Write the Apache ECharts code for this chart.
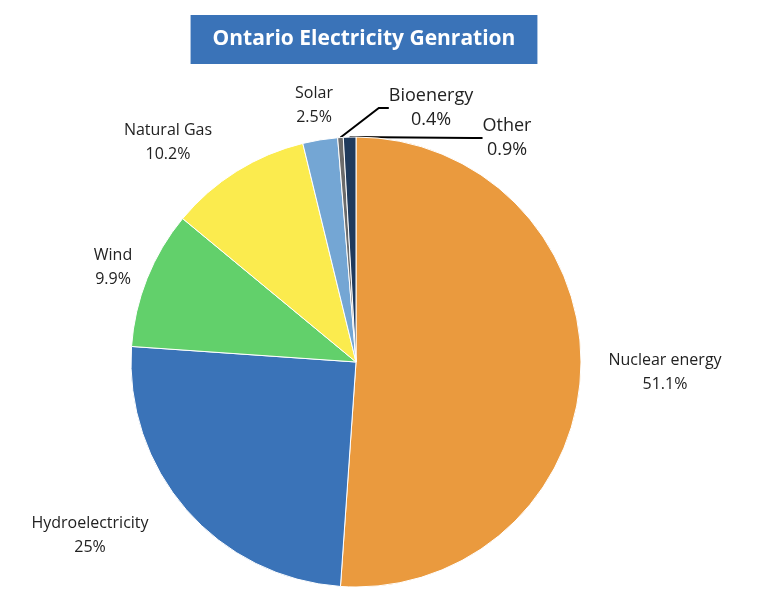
<!DOCTYPE html>
<html><head><meta charset="utf-8">
<script src="https://cdn.jsdelivr.net/npm/echarts@6/dist/echarts.min.js"></script>
<style>html,body{margin:0;background:#fff}#c{width:768px;height:600px}</style>
</head><body><div id="c"></div>
<script>
var sources = ['Nuclear energy', 'Hydroelectricity', 'Wind', 'Natural Gas', 'Solar', 'Bioenergy', 'Other'];
var shares = [51.1, 25, 9.9, 10.2, 2.5, 0.4, 0.9];
var colors = ['#EA9A3E', '#3A73B8', '#62D06B', '#FBEB4E', '#74A6D4', '#6B6B6B', '#1F3A5C'];
// label centres as placed in the original
var labelSpots = [[665, 372], [90, 535], [113, 267], [168, 142], [314, 105], [431, 108], [507, 138]];

var myChart = echarts.init(document.getElementById('c'));
var data = sources.map(function (s, i) {
    var d = { name: s, value: shares[i], itemStyle: { color: colors[i] } };
    if (s === 'Bioenergy' || s === 'Other') {
        d.label = { fontSize: 18 };
        d.labelLine = { show: true, lineStyle: { color: '#000', width: 2 } };
    }
    return d;
});
var option = {
    title: {
        text: 'Ontario Electricity Genration',
        left: 342, top: 15, textAlign: 'center',
        backgroundColor: '#3A73B8',
        padding: [14, 22, 14, 22],
        textStyle: { color: '#fff', fontSize: 21, fontWeight: 'bold', fontFamily: 'Open Sans', width: 310, align: 'center' }
    },
    series: [{
        type: 'pie',
        center: [356, 362],
        radius: 225,
        startAngle: 90,
        clockwise: true,
        data: data,
        avoidLabelOverlap: false,
        label: {
            formatter: function (p) { return p.name + '\n' + p.value + '%'; },
            fontSize: 16, color: '#222', lineHeight: 24, align: 'center',
            fontFamily: 'Open Sans'
        },
        labelLine: { show: false, length: 10, length2: 10 },
        labelLayout: function (p) {
            var s = labelSpots[p.dataIndex];
            return { x: s[0], y: s[1], align: 'center', verticalAlign: 'middle' };
        },
        itemStyle: { borderColor: '#fff', borderWidth: 1 }
    }]
};
option && myChart.setOption(option);
</script></body></html>
